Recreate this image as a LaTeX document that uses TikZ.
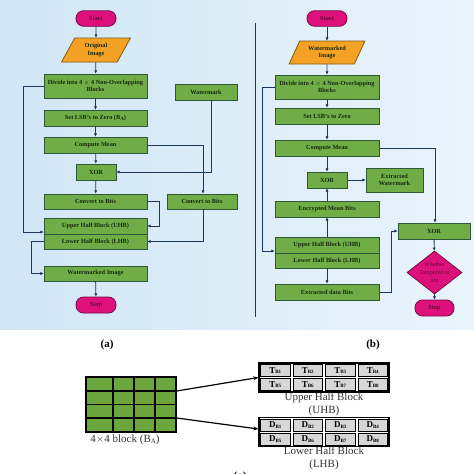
\documentclass[tikz,border=0pt]{standalone}
\usepackage{fontspec}
\setmainfont{Liberation Serif}
\usetikzlibrary{shapes.geometric,arrows.meta,calc}
\definecolor{boxgreen}{RGB}{112,173,71}
\definecolor{boxline}{RGB}{47,88,58}
\definecolor{boxtext}{RGB}{22,40,16}
\definecolor{termfill}{RGB}{222,16,124}
\definecolor{termline}{RGB}{120,10,70}
\definecolor{termtext}{RGB}{100,8,55}
\definecolor{iofill}{RGB}{244,162,36}
\definecolor{ioline}{RGB}{130,90,20}
\definecolor{arrcol}{RGB}{30,55,95}
\definecolor{bgA}{RGB}{208,230,245}
\definecolor{bgB}{RGB}{234,244,251}
\definecolor{cellgray}{RGB}{215,215,215}
\definecolor{gridgreen}{RGB}{106,166,60}
\newcommand\fcf{\fontsize{6.3}{7.3}\selectfont\bfseries}
\newcommand\subB[1]{\raisebox{-0.2ex}{\fontsize{5}{5}\selectfont\bfseries #1}}
\tikzset{
 box/.style={draw=boxline, fill=boxgreen, line width=0.8pt, font=\fcf, text=boxtext, inner sep=1pt, align=center, minimum width=103pt, minimum height=16pt},
 term/.style={draw=termline, fill=termfill, line width=0.8pt, rounded corners=7.5pt, minimum width=40pt, minimum height=15.5pt, font=\fcf, text=termtext, inner sep=1pt},
 io/.style={trapezium, trapezium left angle=63, trapezium right angle=117, trapezium stretches=true, draw=ioline, fill=iofill, line width=0.8pt, font=\fcf, text=boxtext, align=center, inner sep=1pt},
 arr/.style={draw=arrcol, line width=0.8pt, -{Latex[length=3.2pt,width=3.2pt]}},
 cell/.style={draw=black, fill=cellgray, line width=0.9pt, minimum width=29.5pt, minimum height=12pt, inner sep=0pt, font=\fontsize{9}{9}\selectfont\bfseries},
 tab/.style={draw=black, line width=1.3pt, minimum width=130pt, minimum height=29pt, inner sep=0pt},
 blab/.style={font=\fontsize{11}{12.5}\selectfont, text=black!80, align=center, inner sep=0pt},
 plab/.style={font=\fontsize{11}{12}\selectfont\bfseries, inner sep=0pt},
}
\begin{document}
\begin{tikzpicture}[x=1pt,y=-1pt]
\useasboundingbox (0,0) rectangle (474,474);
\shade[left color=bgA, right color=bgB] (0,0) rectangle (474,329);
% ---------- (a) ----------
\node[term] (startA) at (96,18.5) {Start};
\node[io, minimum width=69pt, minimum height=24pt] (origA) at (96,50) {Original\\Image};
\node[box, minimum height=24pt] (divA) at (95.5,86) {Divide into 4 $\times$ 4 Non-Overlapping\\Blocks};
\node[box, minimum width=62pt] (wm) at (206,92) {Watermark};
\node[box] (lsbA) at (95.5,118) {Set LSB's to Zero (B\subB{A})};
\node[box] (meanA) at (95.5,145) {Compute Mean};
\node[box, minimum width=40pt] (xorA) at (96,172) {XOR};
\node[box, minimum height=15pt] (cbA) at (95.5,201.5) {Convert to Bits};
\node[box, minimum width=70pt, minimum height=15pt] (cbB) at (202,201.5) {Convert to Bits};
\node[box] (uhbA) at (95.5,226) {Upper Half Block (UHB)};
\node[box, minimum height=15pt] (lhbA) at (95.5,241.5) {Lower Half Block (LHB)};
\node[box, minimum height=15pt] (wmi) at (95.5,273.5) {Watermarked Image};
\node[term, minimum height=16pt] (stopA) at (96,305) {Stop};
\draw[arr] (startA) -- (origA);
\draw[arr] (origA) -- (divA);
\draw[arr] (divA) -- (lsbA);
\draw[arr] (lsbA) -- (meanA);
\draw[arr] (meanA) -- (xorA);
\draw[arr] (xorA) -- (cbA);
\draw[arr] (wmi) -- (stopA);
\draw[arr] (divA.west) -- ++(-20,0) |- ([yshift=-6pt]uhbA.west);
\draw[arr] (meanA.east) -| ([xshift=1pt]cbB.north);
\draw[arr] ([xshift=5pt]wm.south) |- (xorA.east);
\draw[arr] (cbA.east) -- ++(12,0) |- (uhbA.east);
\draw[arr] ([xshift=1pt]cbB.south) |- (lhbA.east);
\draw[arr] (lhbA.west) -- ++(-12,0) |- (wmi.west);
% divider
\draw[arrcol, line width=0.9pt] (255,23) -- (255,317);
% ---------- (b) ----------
\node[term] (startB) at (327,18.5) {Start};
\node[io, minimum width=76pt, minimum height=23pt] (wmiB) at (327,52.5) {Watermarked\\Image};
\node[box, minimum width=104pt, minimum height=24pt] (divB) at (327,87) {Divide into 4 $\times$ 4 Non-Overlapping\\Blocks};
\node[box, minimum width=104pt] (lsbB) at (327,116) {Set LSB's to Zero};
\node[box, minimum width=104pt] (meanB) at (327,148) {Compute Mean};
\node[box, minimum width=40pt] (xorB) at (327,180) {XOR};
\node[box, minimum width=57pt, minimum height=24pt] (extW) at (394.5,180) {Extracted\\Watermark};
\node[box, minimum width=104pt] (embB) at (327,209) {Encrypted Mean Bits};
\node[box, minimum width=104pt] (uhbB) at (327,245) {Upper Half Block (UHB)};
\node[box, minimum width=104pt, minimum height=15pt] (lhbB) at (327,260.5) {Lower Half Block (LHB)};
\node[box, minimum width=104pt] (edb) at (327,292) {Extracted data Bits};
\node[box, minimum width=72pt] (xorC) at (434,231) {XOR};
\node[diamond, draw=termline, fill=termfill, line width=0.8pt, minimum width=55pt, minimum height=43pt, inner sep=0pt] (dia) at (434.5,272.5) {};
\node[font=\fontsize{6}{8}\selectfont, text=termtext, align=center, inner sep=0pt] (diaT) at (434.5,272.5) {Whether\\Tampered or\\not};
\node[term, minimum width=39pt, minimum height=16pt] (stopB) at (434.5,308) {Stop};
\draw[arr] (startB) -- (wmiB);
\draw[arr] (wmiB) -- (divB);
\draw[arr] (divB) -- (lsbB);
\draw[arr] (lsbB) -- (meanB);
\draw[arr] (meanB) -- (xorB);
\draw[arr] (embB) -- (xorB);
\draw[arr] (uhbB) -- (embB);
\draw[arr] (xorB) -- (extW);
\draw[arr] (lhbB) -- (edb);
\draw[arr] (divB.west) -- ++(-12,0) |- ([yshift=-6pt]uhbB.west);
\draw[arr] (meanB.east) -| ([xshift=1pt]xorC.north);
\draw[arr] (edb.east) -- ++(12,0) |- (xorC.west);
\draw[arr] (xorC) -- (dia);
\draw[arr] (dia) -- (stopB);
% ---------- bottom ----------
\node[plab] (la) at (107,345) {(a)};
\node[plab] (lb) at (373,345) {(b)};
\node[draw=black, fill=gridgreen, line width=1.3pt, minimum width=90pt, minimum height=55pt, inner sep=0pt] (grid) at (131,404.5) {};
\draw[black, line width=1.1pt] (113,377) -- (113,432) (134,377) -- (134,432) (155,377) -- (155,432)
  (86,391) -- (176,391) (86,404.5) -- (176,404.5) (86,418) -- (176,418);
\node[blab] (gl) at (125,440) {4$\times$4 block (B\raisebox{-0.2ex}{\fontsize{7}{7}\selectfont A})};
\node[tab] (ttab) at (324,377.5) {};
\node[tab] (dtab) at (324,432) {};
\foreach \i in {1,...,4}{
  \node[cell] (t\i) at ({259+32.5*(\i-0.5)},370.5) {T\subB{B\i}};
  \pgfmathtruncatemacro\j{\i+4}
  \node[cell] (t\j) at ({259+32.5*(\i-0.5)},384.5) {T\subB{B\j}};
  \node[cell] (d\i) at ({259+32.5*(\i-0.5)},425) {D\subB{B\i}};
  \node[cell] (d\j) at ({259+32.5*(\i-0.5)},439) {D\subB{B\j}};
}
\node[blab] (ul) at (324,404.5) {Upper Half Block\\(UHB)};
\node[blab] (ll) at (324,458.5) {Lower Half Block\\(LHB)};
\draw[black, line width=1.2pt, -{Stealth[length=5pt,width=4pt]}] ([yshift=13.5pt]grid.east) -- (ttab.west);
\draw[black, line width=1.2pt, -{Stealth[length=5pt,width=4pt]}] ([yshift=-13.5pt]grid.east) -- ([yshift=3pt]dtab.west);
\node[plab] (lc) at (240,477) {(a)};
\end{tikzpicture}
\end{document}
